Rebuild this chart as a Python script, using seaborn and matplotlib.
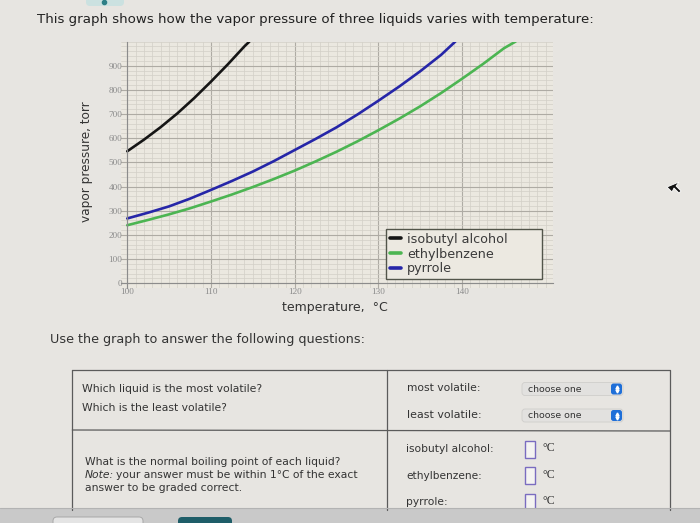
import pandas as pd
import matplotlib
matplotlib.use('Agg')
import matplotlib.pyplot as plt
from matplotlib.patches import Rectangle, FancyBboxPatch, Polygon
from matplotlib.ticker import MultipleLocator
import seaborn as sns

#%%% values
liquids = ['isobutyl alcohol', 'ethylbenzene', 'pyrrole']
lineColors = ['#151515', '#4cb552', '#2626a8']

isoT = [100, 102, 104, 106, 108, 110, 112, 114, 114.6]
isoP = [546, 594, 646, 703, 766, 834, 905, 980, 1000]

ethT = [100, 102.5, 105, 107.5, 110, 112.5, 115, 117.5, 120, 122.5, 125,
        127.5, 130, 132.5, 135, 137.5, 140, 142.5, 145, 146.4]
ethP = [240, 262, 285, 310, 338, 367, 398, 431, 466, 504, 544,
        587, 633, 681, 732, 787, 846, 907, 972, 1000]

pyrT = [100, 102.5, 105, 107.5, 110, 112.5, 115, 117.5, 120, 122.5, 125,
        127.5, 130, 132.5, 135, 137.5, 139.2]
pyrP = [268, 292, 318, 350, 386, 423, 462, 505, 551, 597, 645,
        698, 755, 814, 877, 945, 1000]

xTicks = [100, 110, 120, 130, 140]
yTicks = [0, 100, 200, 300, 400, 500, 600, 700, 800, 900]

title = 'This graph shows how the vapor pressure of three liquids varies with temperature:'
subtitle = 'Use the graph to answer the following questions:'

#%%% long table for seaborn
df = pd.concat([
    pd.DataFrame({'T': isoT, 'P': isoP, 'liquid': liquids[0]}),
    pd.DataFrame({'T': ethT, 'P': ethP, 'liquid': liquids[1]}),
    pd.DataFrame({'T': pyrT, 'P': pyrP, 'liquid': liquids[2]}),
], ignore_index=True)

sns.set_theme(style='white')
plt.rcParams['font.family'] = ['DejaVu Sans']

W, H = 700, 523
page = '#e7e5e1'
ink = '#333333'
fig = plt.figure(figsize=(7, 5.23), dpi=100)
fig.patch.set_facecolor(page)

# page overlay in pixel coords
bg = fig.add_axes([0, 0, 1, 1])
bg.set_xlim(0, W)
bg.set_ylim(H, 0)
bg.axis('off')
rend = fig.canvas.get_renderer()


def put(x, y, s, w=None, size=8, **kw):
    kw.setdefault('color', ink)
    t = bg.text(x, y, s, fontsize=size, va='center', **kw)
    if w:
        bb = t.get_window_extent(rend)
        n = bb.height if kw.get('rotation') == 90 else bb.width
        t.set_fontsize(size * w / n)
    return t


#%%% chart
ax = fig.add_axes([121.4 / W, 1 - 287.6 / H, 431.1 / W, 246.1 / H])
ax.set_facecolor('#ebe8e0')
sns.lineplot(data=df, x='T', y='P', hue='liquid', hue_order=liquids,
             palette=lineColors, lw=1.9, sort=False, estimator=None, ax=ax)
ax.set_xlim(99.3, 150.8)
ax.set_ylim(-18, 1000)
ax.set_xticks(xTicks)
ax.set_yticks(yTicks)
ax.xaxis.set_minor_locator(MultipleLocator(1))
ax.yaxis.set_minor_locator(MultipleLocator(20))
ax.grid(which='minor', color='#d2cfc7', lw=0.5)
ax.grid(which='major', color='#aeaba4', lw=0.8)
ax.set_axisbelow(True)
ax.set_xlabel('')
ax.set_ylabel('')
for s in ['top', 'right']:
    ax.spines[s].set_visible(False)
ax.spines['left'].set_position(('data', 100))
ax.spines['bottom'].set_position(('data', 0))
for s in ['left', 'bottom']:
    ax.spines[s].set_color('#8c8c8c')
    ax.spines[s].set_linewidth(0.8)
ax.tick_params(which='both', direction='inout', color='#8c8c8c',
               labelcolor='#8a8a8a', labelsize=6.6, pad=1.0)
ax.tick_params(which='major', length=5, width=0.8)
ax.tick_params(which='minor', length=3, width=0.6)
for lbl in ax.get_xticklabels() + ax.get_yticklabels():
    lbl.set_family('Liberation Serif')

handles, labels = ax.get_legend_handles_labels()
legH = 52 / 246.1
leg = ax.legend(handles, labels, loc='upper left',
                bbox_to_anchor=(0.614, 0.238 - legH, 0.362, legH), mode='expand',
                fontsize=9.2, handlelength=0.9, handletextpad=0.45,
                labelspacing=0.14, borderpad=0.3, borderaxespad=0,
                fancybox=False, framealpha=1, facecolor='#ece9e1',
                edgecolor='#52554a')
leg.get_frame().set_linewidth(1.0)
for ln in leg.get_lines():
    ln.set_linewidth(2.6)
for tx in leg.get_texts():
    tx.set_color('#3a3a3a')

put(86.7, 162, 'vapor pressure, torr', w=120, size=9, rotation=90, ha='center')
put(282, 307, 'temperature,  °C', w=107, size=9.5)

#%%% page text
put(36.7, 19, title, w=555, size=11, color='#222222')
put(50, 340, subtitle, w=315, size=10)

# little teal tab at the top
bg.add_patch(FancyBboxPatch((86, -6), 38, 12, boxstyle='round,pad=0,rounding_size=4',
                            fc='#cbe1e0', ec='none'))
bg.plot([104], [2], 'o', ms=3, color='#2d7f86')

# mouse pointer
bg.add_patch(Polygon([[667, 187], [679, 182], [676, 186], [681, 191], [679, 193],
                      [674, 188], [672, 192]], closed=True, fc='#111111',
                     ec='white', lw=0.6))

#%%% question table
line = dict(color='#5b5b5b', lw=0.9)
bg.plot([72.3, 670, 670], [369.5, 369.5, 510], **line)
bg.plot([72.3, 72.3], [369.5, 510], **line)
bg.plot([72.3, 670], [430, 431], **line)
bg.plot([387, 387], [369.5, 510], **line)

put(81.7, 389.3, 'Which liquid is the most volatile?', w=180, size=8)
put(82, 408.3, 'Which is the least volatile?', w=145, size=8)
q = put(85, 462.3, 'What is the normal boiling point of each liquid?', w=255, size=8)
fs = q.get_fontsize()
note = put(85, 474.5, 'Note:', size=fs, style='italic')
nx = bg.transData.inverted().transform(note.get_window_extent(rend))[1][0]
put(nx + 2, 474.5, 'your answer must be within 1°C of the exact', size=fs)
put(85, 487.7, 'answer to be graded correct.', size=fs)

put(406.7, 388.3, 'most volatile:', w=73, size=8)
put(406.7, 415, 'least volatile:', w=74, size=8)
for yc in [389, 415.5]:
    bg.add_patch(FancyBboxPatch((522, yc - 6.5), 101, 13,
                                boxstyle='round,pad=0,rounding_size=3',
                                fc='#e2e1df', ec='#cfcecb', lw=0.6))
    put(528.3, yc, 'choose one', w=54, size=7.5)
    bg.add_patch(FancyBboxPatch((611, yc - 5.5), 11, 11,
                                boxstyle='round,pad=0,rounding_size=2.5',
                                fc='#1f6fd8', ec='none'))
    bg.plot([616.5], [yc - 2], '^', ms=2.2, color='white')
    bg.plot([616.5], [yc + 2], 'v', ms=2.2, color='white')

names = ['isobutyl alcohol:', 'ethylbenzene:', 'pyrrole:']
nameW = [87, 75, 41]
for nm, nw, yc in zip(names, nameW, [449.3, 475.7, 502.3]):
    put(406, yc, nm, w=nw, size=8)
    bg.add_patch(Rectangle((525, yc - 8.5), 10, 17, fc='#f4f3f1',
                           ec='#7a6cc0', lw=1.0))
    put(542.5, yc - 1, '°C', size=8.5, family='Liberation Serif')

# grey bar at the bottom of the screen
bg.add_patch(Rectangle((0, 508), W, 15, fc='#c9c9c9', ec='none'))
bg.plot([0, W], [508, 508], color='#b3b3b3', lw=0.8)
bg.add_patch(FancyBboxPatch((53, 517), 90, 12, boxstyle='round,pad=0,rounding_size=4',
                            fc='#e4e4e4', ec='#a8a8a8', lw=0.7))
bg.add_patch(FancyBboxPatch((178, 517), 54, 12, boxstyle='round,pad=0,rounding_size=4',
                            fc='#1e5d68', ec='none'))

fig.savefig('out.png', dpi=100, facecolor=fig.get_facecolor())
